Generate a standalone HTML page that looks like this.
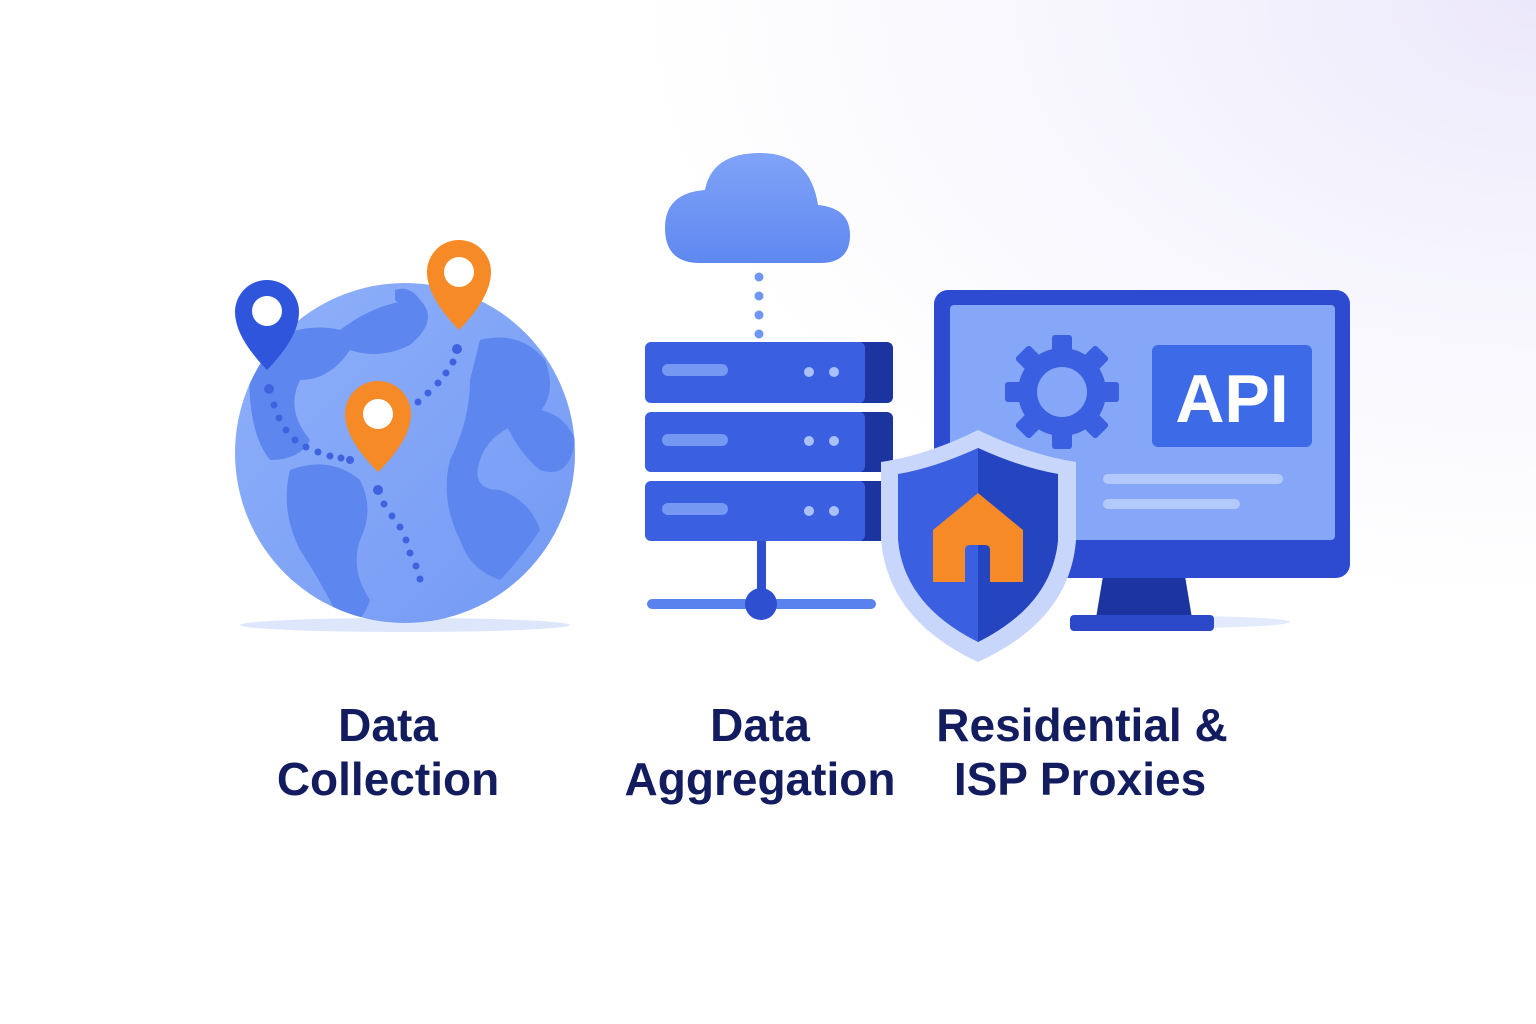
<!DOCTYPE html>
<html><head><meta charset="utf-8"><style>
html,body{margin:0;padding:0;width:1536px;height:1024px;overflow:hidden;}
body{background:radial-gradient(ellipse 900px 600px at 1536px 0px,#ece8fb 0%,#f6f5fd 45%,#ffffff 100%);}
svg{position:absolute;left:0;top:0;}
</style></head><body>
<svg width="1536" height="1024" viewBox="0 0 1536 1024" xmlns="http://www.w3.org/2000/svg">
<defs>
<linearGradient id="g1" x1="0" y1="0" x2="1" y2="1"><stop offset="0" stop-color="#8fb0fa"/><stop offset="1" stop-color="#7399f3"/></linearGradient>
<linearGradient id="cl" x1="0" y1="0" x2="0" y2="1"><stop offset="0" stop-color="#7fa3f8"/><stop offset="1" stop-color="#5f88f0"/></linearGradient>
<clipPath id="gc"><circle cx="405" cy="453" r="170"/></clipPath>
</defs>
<!-- shadows -->
<ellipse cx="405" cy="625" rx="165" ry="7" fill="#dde6fb"/>
<ellipse cx="1180" cy="622" rx="110" ry="6" fill="#e3eafb"/>
<!-- globe -->
<circle cx="405" cy="453" r="170" fill="url(#g1)"/>
<g clip-path="url(#gc)" fill="#5d86ef">
<path d="M250 350 Q300 320 340 330 Q380 300 420 300 Q440 320 410 345 Q380 360 350 350 Q330 380 300 380 Q285 410 310 440 Q300 460 270 460 Q245 430 250 350Z"/>
<path d="M290 470 Q330 455 360 480 Q375 510 360 540 Q350 570 370 600 Q360 630 340 620 Q320 580 300 550 Q280 510 290 470Z"/>
<path d="M480 340 Q520 330 545 360 Q560 400 530 420 Q490 430 480 460 Q470 490 500 490 Q530 500 540 530 Q520 560 500 580 Q470 570 460 540 Q440 500 450 460 Q470 420 470 380Z"/>
<path d="M395 290 Q410 285 420 300 Q405 310 395 300Z"/>
<path d="M500 410 Q560 400 575 440 Q570 480 540 470 Q515 450 500 410Z"/>
</g>
<!-- dotted paths -->
<g fill="#3f63e0">
<circle cx="269" cy="389" r="5"/><circle cx="274" cy="405" r="3.5"/><circle cx="279" cy="418" r="3.5"/><circle cx="286" cy="430" r="3.5"/><circle cx="295" cy="440" r="3.5"/><circle cx="306" cy="447" r="3.5"/><circle cx="318" cy="452" r="3.5"/><circle cx="330" cy="456" r="3.5"/><circle cx="341" cy="458" r="3.5"/><circle cx="350" cy="460" r="4"/>
<circle cx="457" cy="349" r="5"/><circle cx="453" cy="362" r="3.5"/><circle cx="446" cy="373" r="3.5"/><circle cx="438" cy="383" r="3.5"/><circle cx="428" cy="393" r="3.5"/><circle cx="418" cy="402" r="3.5"/>
<circle cx="378" cy="490" r="5"/><circle cx="384" cy="504" r="3.5"/><circle cx="392" cy="516" r="3.5"/><circle cx="400" cy="527" r="3.5"/><circle cx="406" cy="540" r="3.5"/><circle cx="410" cy="553" r="3.5"/><circle cx="416" cy="566" r="3.5"/><circle cx="420" cy="579" r="3.5"/>
</g>
<!-- pins -->
<g>
<path d="M267 280 a32 32 0 0 1 32 32 q0 25 -32 58 q-32 -33 -32 -58 a32 32 0 0 1 32 -32z" fill="#2f55dc"/>
<circle cx="267" cy="311" r="15" fill="#fff"/>
<path d="M459 240 a32 32 0 0 1 32 32 q0 25 -32 58 q-32 -33 -32 -58 a32 32 0 0 1 32 -32z" fill="#f68a26"/>
<circle cx="459" cy="272" r="15" fill="#fff"/>
<path d="M378 381 a33 33 0 0 1 33 33 q0 25 -33 58 q-33 -33 -33 -58 a33 33 0 0 1 33 -33z" fill="#f68a26"/>
<circle cx="378" cy="414" r="15" fill="#fff"/>
</g>
<!-- cloud -->
<path d="M700 263 Q665 263 665 228 Q665 193 705 190 Q712 153 760 153 Q810 153 818 205 Q850 208 850 235 Q850 263 820 263Z" fill="url(#cl)"/>
<g fill="#6f95f5"><circle cx="759" cy="277" r="4.5"/><circle cx="759" cy="296" r="4.5"/><circle cx="759" cy="315" r="4.5"/><circle cx="759" cy="334" r="4.5"/></g>
<!-- server -->
<g>
<rect x="855" y="342" width="38" height="61" rx="6" fill="#1c34a0"/>
<rect x="645" y="342" width="220" height="61" rx="6" fill="#3a5fe0"/>
<rect x="662" y="364" width="66" height="12" rx="6" fill="#7598f3"/>
<circle cx="809" cy="372" r="5" fill="#a9c0fa"/><circle cx="834" cy="372" r="5" fill="#a9c0fa"/>
<rect x="855" y="412" width="38" height="60" rx="6" fill="#1c34a0"/>
<rect x="645" y="412" width="220" height="60" rx="6" fill="#3a5fe0"/>
<rect x="662" y="434" width="66" height="12" rx="6" fill="#7598f3"/>
<circle cx="809" cy="441" r="5" fill="#a9c0fa"/><circle cx="834" cy="441" r="5" fill="#a9c0fa"/>
<rect x="855" y="481" width="38" height="60" rx="6" fill="#1c34a0"/>
<rect x="645" y="481" width="220" height="60" rx="6" fill="#3a5fe0"/>
<rect x="662" y="503" width="66" height="12" rx="6" fill="#7598f3"/>
<circle cx="809" cy="511" r="5" fill="#a9c0fa"/><circle cx="834" cy="511" r="5" fill="#a9c0fa"/>
<rect x="757" y="541" width="9" height="60" fill="#2e4fd0"/>
<rect x="647" y="599" width="229" height="10" rx="5" fill="#5a82ee"/>
<circle cx="761" cy="604" r="16" fill="#2e4fd0"/>
</g>
<!-- monitor -->
<g>
<path d="M1103 576 L1185 576 L1192 618 L1096 618Z" fill="#1c34a0"/>
<rect x="1070" y="615" width="144" height="16" rx="4" fill="#2b48c8"/>
<rect x="934" y="290" width="416" height="288" rx="14" fill="#2d4bd0"/>
<rect x="950" y="305" width="385" height="235" rx="4" fill="#86a6f8"/>
<g transform="translate(1062,392)" fill="#3a5fe0">
<circle r="44"/>
<g id="t"><rect x="-10" y="-57" width="20" height="20" rx="3"/></g>
<use href="#t" transform="rotate(45)"/><use href="#t" transform="rotate(90)"/><use href="#t" transform="rotate(135)"/><use href="#t" transform="rotate(180)"/><use href="#t" transform="rotate(225)"/><use href="#t" transform="rotate(270)"/><use href="#t" transform="rotate(315)"/>
<circle r="25" fill="#86a6f8"/>
</g>
<rect x="1152" y="345" width="160" height="102" rx="6" fill="#3d6be8"/>
<text x="1232" y="422" text-anchor="middle" font-family="Liberation Sans, sans-serif" font-weight="bold" font-size="68" fill="#fff">API</text>
<rect x="1103" y="474" width="180" height="10" rx="5" fill="#b3c8fb"/>
<rect x="1103" y="499" width="137" height="10" rx="5" fill="#b3c8fb"/>
</g>
<!-- shield -->
<path d="M978 430 Q1030 455 1076 462 L1076 540 Q1070 620 978 662 Q888 620 881 540 L881 462 Q928 455 978 430Z" fill="#c8d6fb"/>
<path d="M978 448 Q1022 468 1058 474 L1058 540 Q1052 605 978 642 Q904 605 898 540 L898 474 Q934 468 978 448Z" fill="#3a5fe0"/>
<path d="M978 448 Q1022 468 1058 474 L1058 540 Q1052 605 978 642Z" fill="#2444c0"/>
<path d="M978 493 L1023 530 L1023 582 L990 582 L990 550 Q990 545 985 545 L970 545 Q965 545 965 550 L965 582 L933 582 L933 530Z" fill="#f68a26"/>
<!-- labels -->
<g font-family="Liberation Sans, sans-serif" font-size="46" font-weight="bold" fill="#121c5e" text-anchor="middle">
<text x="388" y="741">Data</text><text x="388" y="795">Collection</text>
<text x="760" y="741">Data</text><text x="760" y="795">Aggregation</text>
<text x="1082" y="741">Residential &amp;</text><text x="1080" y="795">ISP Proxies</text>
</g>
</svg>
</body></html>
